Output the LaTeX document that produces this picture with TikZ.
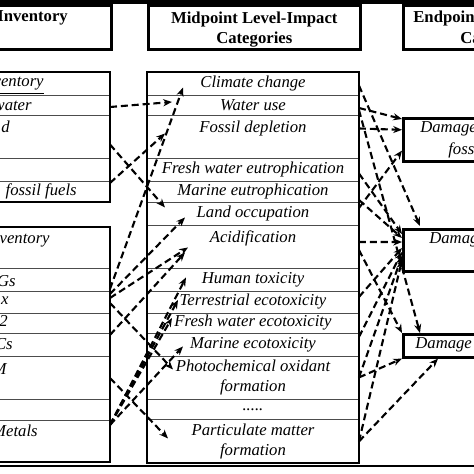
\documentclass[tikz,border=0pt]{standalone}
\usepackage{fontspec}
\setmainfont{Liberation Serif}
\usetikzlibrary{positioning}
\usetikzlibrary{arrows.meta}
\usetikzlibrary{calc}

\begin{document}
\begin{tikzpicture}[x=0.02cm, y=-0.02cm,
		frame/.style = {draw, line width=1.5pt},
		cell/.style = {draw=black!70, line width=0.5pt, inner sep=0pt, outer sep=0pt, align=center,
			font=\fontsize{9.5}{11}\selectfont\itshape},
		mid/.style = {cell, minimum width=4.24cm},
		inv/.style = {cell, minimum width=2.4cm},
		txt/.style = {inner sep=0pt, font=\fontsize{9.5}{11}\selectfont\itshape},
		head/.style = {inner sep=0pt, align=center, font=\fontsize{9.5}{11.5}\selectfont\bfseries},
		flow/.style = {-{Stealth[length=5pt,width=4pt]}, line width=1.2pt, dash pattern=on 4pt off 2.2pt}]
	\useasboundingbox (0,0) rectangle (474,474);
	\clip (0,0) rectangle (474,474);
	\fill (0,0) rectangle (474,3.5);
	\draw[line width=1pt] (0,466) -- (474,466);

	% headers
	\node[frame, minimum width=2.4cm, minimum height=0.88cm, anchor=north west] (hinv) at (-10,4) {};
	\node[head, anchor=west] (hinv-t) at (-3,18) {Inventory};
	\node[frame, minimum width=4.24cm, minimum height=0.88cm, anchor=north west] (hmid) at (147,4) {};
	\node[head] (hmid-t) at ($(hmid.center)+(0,2)$) {Midpoint Level-Impact\\Categories};
	\node[frame, minimum width=1.8cm, minimum height=0.88cm, anchor=north west] (hend) at (402,4) {};
	\node[head, anchor=west] (hend-t) at (413,18) {Endpoint};
	\node[head, anchor=west] (hend-c) at (460,40) {Categories};

	% inventory, first box
	\node[inv, minimum height=0.46cm, anchor=north west] (in1) at (-10,72) {};
	\node[inv, minimum height=0.40cm, below=0pt of in1] (wat) {};
	\node[inv, minimum height=0.86cm, below=0pt of wat] (lnd) {};
	\node[inv, minimum height=0.46cm, below=0pt of lnd] (gap1) {};
	\node[inv, minimum height=0.42cm, below=0pt of gap1] (ff) {};
	\draw[frame] (in1.north west) rectangle (ff.south east);
	\node[txt, anchor=east] (in1-t) at (44,85) {\underline{Inventory}};
	\node[txt, anchor=east] (wat-t) at (32,106) {water};
	\node[txt, anchor=east] (lnd-t) at (10,127) {d};
	\node[txt, anchor=east] (ff-t) at (77,191) {fossil fuels};

	% inventory, second box
	\node[inv, minimum height=0.82cm, anchor=north west] (in2) at (-10,227) {};
	\node[inv, minimum height=0.46cm, below=0pt of in2] (ghg) {};
	\node[inv, minimum height=0.44cm, below=0pt of ghg] (nox) {};
	\node[inv, minimum height=0.40cm, below=0pt of nox] (sox) {};
	\node[inv, minimum height=0.46cm, below=0pt of sox] (voc) {};
	\node[inv, minimum height=0.86cm, below=0pt of voc] (pm) {};
	\node[inv, minimum height=0.42cm, below=0pt of pm] (gap2) {};
	\node[inv, minimum height=0.84cm, below=0pt of gap2] (hm) {};
	\draw[frame] (in2.north west) rectangle (hm.south east);
	\node[txt, anchor=east] (in2-t) at (50,240) {Inventory};
	\node[txt, anchor=east] (ghg-t) at (16,281) {Gs};
	\node[txt, anchor=east] (nox-t) at (9,301) {x};
	\node[txt, anchor=east] (sox-t) at (8,321) {2};
	\node[txt, anchor=east] (voc-t) at (13,344) {Cs};
	\node[txt, anchor=east] (pm-t) at (7,369) {M};
	\node[txt, anchor=east] (hm-t) at (38,431) {Metals};

	% midpoint categories
	\node[mid, minimum height=0.46cm, anchor=north west] (cc) at (147,72) {Climate change};
	\node[mid, minimum height=0.40cm, below=0pt of cc] (wu) {Water use};
	\node[mid, minimum height=0.86cm, below=0pt of wu] (fd) {Fossil depletion\\~};
	\node[mid, minimum height=0.46cm, below=0pt of fd] (fwe) {Fresh water eutrophication};
	\node[mid, minimum height=0.42cm, below=0pt of fwe] (me) {Marine eutrophication};
	\node[mid, minimum height=0.46cm, below=0pt of me] (lo) {Land occupation};
	\node[mid, minimum height=0.86cm, below=0pt of lo] (acid) {Acidification\\~};
	\node[mid, minimum height=0.46cm, below=0pt of acid] (ht) {Human toxicity};
	\node[mid, minimum height=0.44cm, below=0pt of ht] (te) {Terrestrial ecotoxicity};
	\node[mid, minimum height=0.40cm, below=0pt of te] (fwt) {Fresh water ecotoxicity};
	\node[mid, minimum height=0.46cm, below=0pt of fwt] (mt) {Marine ecotoxicity};
	\node[mid, minimum height=0.86cm, below=0pt of mt] (pof) {Photochemical oxidant\\formation};
	\node[mid, minimum height=0.42cm, below=0pt of pof] (dots) {.....};
	\node[mid, minimum height=0.86cm, below=0pt of dots] (pmf) {Particulate matter\\formation};
	\draw[frame] (cc.north west) rectangle (pmf.south east);

	% endpoint boxes
	\node[frame, minimum width=1.8cm, minimum height=0.86cm, anchor=north west] (d1) at (402,117) {};
	\node[txt, anchor=west] (d1-a) at (420,129) {Damage};
	\node[txt, anchor=west] (d1-b) at (448,150) {fossil};
	\node[frame, minimum width=1.8cm, minimum height=0.84cm, anchor=north west] (d2) at (402,228) {};
	\node[txt, anchor=west] (d2-a) at (429,240) {Damage};
	\node[frame, minimum width=1.8cm, minimum height=0.46cm, anchor=north west] (d3) at (402,333) {};
	\node[txt, anchor=west] (d3-a) at (415,345) {Damage};

	% inventory -> midpoint
	\draw[flow] ($(wat.east)+(0,2)$) -- ($(wu.west)+(25,-3)$);
	\draw[flow] ($(lnd.east)+(0,8)$) -- ($(lo.west)+(18,-6)$);
	\draw[flow] ($(ff.north east)+(0,2)$) -- ($(fd.west)+(18,-3)$);
	\draw[flow] ($(ghg.south east)+(0,-2)$) -- ($(cc.west)+(36,4)$);
	\draw[flow] ($(nox.north east)+(0,3)$) -- ($(lo.west)+(38,4)$);
	\draw[flow] ($(nox.north east)+(0,7)$) -- ($(acid.west)+(41,1)$);
	\draw[flow] ($(nox.north east)+(0,12)$) -- ($(pof.west)+(26,-8)$);
	\draw[flow] ($(sox.south east)+(0,2)$) -- ($(acid.west)+(38,6)$);
	\draw[flow] ($(pm.north east)+(0,22)$) -- ($(pmf.west)+(21,-3)$);
	\foreach \c/\dx/\dy in {ht/39/-2, te/31/-2, fwt/25/-5, mt/36/2}
		\draw[flow] ($(hm.north east)+(0,5)$) -- ($(\c.west)+(\dx,\dy)$);

	% midpoint -> endpoint
	\draw[flow] ($(cc.east)+(0,2)$) -- ($(d2.north west)+(18,-2)$);
	\draw[flow] ($(wu.east)+(0,3)$) -- ($(d1.north west)+(0,2)$);
	\draw[flow] ($(wu.east)+(0,5)$) -- ($(d3.north west)+(18,0)$);
	\draw[flow] ($(fd.east)+(0,-8)$) -- ($(d1.west)+(0,-10)$);
	\draw[flow] ($(fwe.east)+(0,4)$) -- ($(d2.north west)+(0,6)$);
	\draw[flow] ($(me.south east)+(0,-2)$) -- ($(d2.north west)+(0,10)$);
	\draw[flow] ($(lo.north east)+(0,6)$) -- ($(d1.south west)+(0,-12)$);
	\draw[flow] ($(acid.north east)+(0,17)$) -- ($(d2.north west)+(0,14)$);
	\draw[flow] ($(acid.north east)+(0,25)$) -- (d3.north west);
	\draw[flow] ($(te.north east)+(0,6)$) -- ($(d2.north west)+(0,20)$);
	\draw[flow] ($(mt.north east)+(0,4)$) -- ($(d2.north west)+(0,24)$);
	\draw[flow] (pof.east) -- ($(d2.north west)+(0,28)$);
	\draw[flow] (pmf.east) -- ($(d2.north west)+(0,32)$);
	\draw[flow] (pof.east) -- (d3.south west);
	\draw[flow] (pmf.east) -- ($(d3.south west)+(36,0)$);
\end{tikzpicture}
\end{document}
